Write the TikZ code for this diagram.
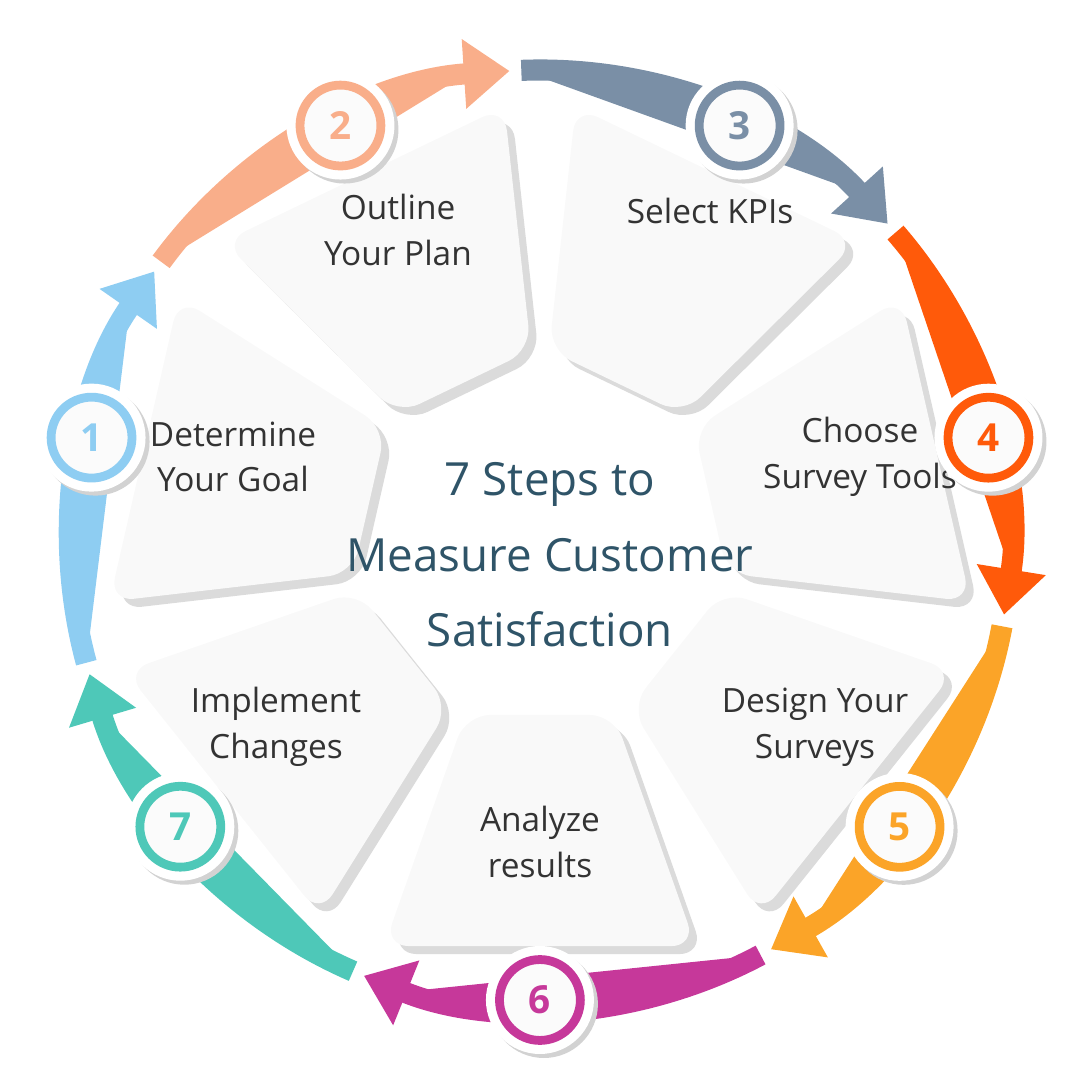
\documentclass[tikz,border=0pt]{standalone}
\usepackage{fontspec}
\setmainfont{Open Sans}
\usetikzlibrary{arrows.meta}
\definecolor{stepA}{HTML}{8ECDF2}
\definecolor{stepB}{HTML}{F9AE8A}
\definecolor{stepC}{HTML}{7A8FA6}
\definecolor{stepD}{HTML}{FF5A0A}
\definecolor{stepE}{HTML}{FBA428}
\definecolor{stepF}{HTML}{C6389A}
\definecolor{stepG}{HTML}{4EC8B8}
\definecolor{titleblue}{HTML}{2F5468}
\tikzset{
  ring/.style={line width=6pt, -{Triangle[length=13pt,width=19pt]}},
  panel/.style={fill=gray!5, rounded corners=7pt},
  panelshadow/.style={fill=gray!28, rounded corners=7pt},
  steplabel/.style={align=center, font=\fontsize{9.5}{13}\selectfont, text=black!80},
  stepnum/.style={circle, minimum size=23pt, fill=gray!3, line width=2.5pt,
    font=\fontsize{11}{11}\selectfont\bfseries}
}
\begin{document}
\begin{tikzpicture}[x=0.01cm,y=0.01cm]
\useasboundingbox (-540,-540) rectangle (540,540);

% ring of arrows
\foreach \i/\c in {1/stepA,2/stepB,3/stepC,4/stepD,5/stepE,6/stepF,7/stepG}
{
  \pgfmathsetmacro{\t}{167.14-(\i-1)*51.43}
  \draw[ring, draw=\c, fill=\c] (\t+28:470) arc[start angle=\t+28, end angle=\t-22, radius=470];
}

% panels
\foreach \i in {1,...,7}
{
  \pgfmathsetmacro{\t}{167.14-(\i-1)*51.43}
  \fill[panelshadow] ([shift={(8,-8)}]\t-23:190) -- ([shift={(8,-8)}]\t-21:435)
    -- ([shift={(8,-8)}]\t+21:435) -- ([shift={(8,-8)}]\t+23:190) -- cycle;
  \fill[panel] (\t-23:190) -- (\t-21:435) -- (\t+21:435) -- (\t+23:190) -- cycle;
}

% labels
\node[steplabel] (l1) at (-307,83) {Determine\\Your Goal};
\node[steplabel] (l2) at (-142,310) {Outline\\Your Plan};
\node[steplabel] (l3) at (170,329) {Select KPIs};
\node[steplabel] (l4) at (320,83) {Choose\\Survey Tools};
\node[steplabel] (l5) at (275,-187) {Design Your\\Surveys};
\node[steplabel] (l6) at (0,-302) {Analyze\\results};
\node[steplabel] (l7) at (-264,-187) {Implement\\Changes};

% number circles
\foreach \i/\c in {1/stepA,2/stepB,3/stepC,4/stepD,5/stepE,6/stepF,7/stepG}
{
  \pgfmathsetmacro{\t}{167.14-(\i-1)*51.43}
  \fill[gray!35] ([shift={(4,-4)}]\t:460) circle (54);
  \fill[white] (\t:460) circle (54);
  \node[stepnum, draw=\c, text=\c] (n\i) at (\t:460) {\i};
}

\node[align=center, text=titleblue, font=\fontsize{13}{21.5}\selectfont] (title) at (10,-15)
  {7 Steps to\\Measure Customer\\Satisfaction};
\end{tikzpicture}
\end{document}
